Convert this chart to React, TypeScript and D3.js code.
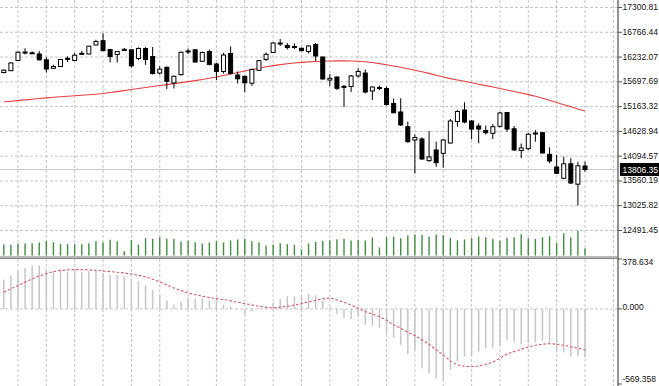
import React from "react";
import * as d3 from "d3";

const opens = [15899,15938,16158,16341,16324,16298,16173,15990,16028,16205,16158,16313,16298,16492,16585,16395,16287,16373,16388,16201,16417,16244,15888,16011,15673,15852,16363,16388,16141,16352,16082,15920,16309,15845,15817,15668,15946,16182,16330,16535,16481,16460,16421,16352,16503,16233,15737,15802,15601,15597,15824,15888,15500,15575,15554,15230,15047,14730,14443,14465,13997,14228,14156,14379,14842,15090,14853,14745,14648,14588,14739,15036,14685,14217,14255,14594,14601,14135,13861,13617,13930,13490,13882];
const highs = [15965,16120,16352,16421,16356,16363,16227,16065,16190,16248,16320,16369,16475,16607,16747,16410,16363,16427,16406,16443,16443,16449,16033,16028,15834,16352,16417,16406,16352,16395,16104,16320,16462,15920,15834,15985,16169,16330,16550,16622,16535,16524,16432,16481,16535,16244,15867,15813,15629,15845,15990,15964,15597,15619,15597,15338,15343,14838,14566,14501,14637,14407,14465,14896,15090,15256,14875,14803,14756,14788,15047,15047,14745,14368,14594,14659,14616,14283,14120,14083,14049,13975,13975];
const lows = [15880,15930,16147,16287,16298,16162,15899,15975,16018,16125,16140,16283,16291,16488,16363,16115,16115,16363,16007,16169,16065,15856,15853,15543,15554,15834,16298,16115,16125,16050,15737,15878,15856,15662,15478,15608,15931,16147,16320,16471,16395,16406,16363,16309,16147,15748,15608,15522,15155,15478,15791,15446,15306,15522,15187,15019,14745,14385,13721,14012,13975,13867,13850,14368,14730,14803,14458,14372,14562,14465,14713,14622,14206,14049,14228,14407,14152,13941,13710,13596,13494,13031,13760];
const closes = [15950,16104,16337,16330,16313,16173,15975,16028,16179,16195,16272,16302,16466,16568,16369,16244,16352,16399,16043,16417,16179,15878,15970,15709,15817,16335,16352,16125,16330,16072,15920,16276,15878,15763,15677,15964,16154,16292,16535,16524,16438,16449,16369,16471,16255,15759,15774,15558,15591,15824,15921,15478,15586,15554,15209,15032,14767,14407,14497,14034,14077,13954,14443,14853,15058,14831,14680,14680,14601,14730,15026,14680,14228,14271,14568,14583,14163,13990,13725,13930,13516,13887,13806.35];
const maValues = [15263,15278,15293,15308,15323,15338,15351,15364,15375,15386,15397,15407,15418,15431,15446,15466,15487,15509,15532,15554,15576,15597,15619,15638,15660,15681,15703,15724,15748,15774,15802,15834,15867,15899,15931,15962,15992,16022,16048,16069,16089,16104,16117,16128,16136,16143,16147,16149,16149,16147,16143,16130,16113,16091,16065,16039,16011,15981,15949,15914,15880,15841,15802,15767,15737,15709,15677,15647,15616,15586,15554,15522,15489,15457,15422,15386,15345,15299,15252,15205,15159,15112,15069];
const volumes = [11000,10700,11700,12000,12300,13000,14700,13300,11300,11300,11300,11300,12300,14300,13000,15700,14300,4300,15300,10700,17300,16700,18300,16700,16700,14000,14700,13300,12000,13000,14300,13000,15000,16000,16700,14300,13300,10000,11000,12300,11300,10700,6000,12000,13700,14700,15000,16300,16700,15000,15700,15000,18000,8000,18300,19000,17300,20000,21000,20700,19000,21000,20300,17700,15300,16000,17300,19000,18300,16700,14700,17700,18300,21300,17300,16700,18300,19300,12300,22300,18300,24700,7300];
const macdHist = [222,253,286,311,329,329,291,286,298,281,298,281,286,291,273,260,255,248,215,210,179,142,109,63,33,53,83,78,78,63,68,33,20,3,-38,-20,3,20,46,78,96,96,104,114,104,58,12,-40,-71,-78,-58,-121,-129,-142,-192,-217,-273,-344,-311,-450,-488,-526,-538,-463,-399,-361,-349,-324,-298,-293,-273,-235,-248,-268,-260,-253,-243,-253,-329,-329,-361,-361,-369];
const macdSignal = [129,152,177,202,228,250,268,283,291,296,298,298,296,293,288,283,278,273,265,255,243,225,205,182,159,139,121,109,96,86,78,71,61,51,40,30,20,13,8,13,20,30,40,53,66,76,83,68,51,30,5,-20,-40,-58,-86,-121,-147,-177,-202,-235,-268,-311,-349,-394,-425,-435,-437,-432,-420,-404,-374,-341,-324,-306,-288,-276,-268,-263,-268,-276,-288,-298,-311];
const priceTicks = ["17300.81","16766.44","16232.07","15697.69","15163.32","14628.94","14094.57","13560.19","13025.82","12491.45"];
const macdTicks = ["378.634","0.000","-569.358"];
const lastPrice = 13806.35;
const lastPriceLabel = "13806.35";

const W = 659;
const H = 386;
const AXIS_X = 618;
const MAIN_BOTTOM = 255.5;
const SUB_TOP = 259;
const FONT = "'Liberation Sans', Arial, sans-serif";

export default function App() {
  const n = closes.length;
  const x = d3.scaleLinear().domain([0, n - 1]).range([3.8, 585]);
  const y = d3.scaleLinear().domain([12491.45, 17300.81]).range([230.5, 7.5]);
  const yVol = d3.scaleLinear().domain([0, 100000]).range([MAIN_BOTTOM, MAIN_BOTTOM - 100]);
  const yM = d3.scaleLinear().domain([-569.358, 378.634]).range([384, SUB_TOP]);
  const gridIdx = d3.range(2, 87, 4);
  const maLine = d3.line<number>().x((_, i) => x(i)).y((d) => y(d));
  const sigLine = d3.line<number>().x((_, i) => x(i)).y((d) => yM(d));
  const bodyW = 4;
  const macdOffsets = [2.5, -1.5, -5];

  return (
    <svg width={W} height={H} style={{ position: "absolute", left: 0, top: 0, background: "#fff" }}>
      <rect x={0} y={0} width={W} height={H} fill="#fff" />
      {/* vertical grid */}
      {gridIdx.map((g) => (
        <g key={"vg" + g}>
          <line x1={x(g)} x2={x(g)} y1={0} y2={MAIN_BOTTOM} stroke="#c4c4c4" strokeDasharray="3,2" />
          <line x1={x(g)} x2={x(g)} y1={SUB_TOP} y2={H} stroke="#c4c4c4" strokeDasharray="3,2" />
        </g>
      ))}
      {/* horizontal grid main */}
      {priceTicks.map((t) => (
        <line key={"hg" + t} x1={0} x2={AXIS_X} y1={y(+t)} y2={y(+t)} stroke="#c4c4c4" strokeDasharray="3,2" />
      ))}
      {/* zero line sub */}
      <line x1={0} x2={AXIS_X} y1={yM(0)} y2={yM(0)} stroke="#c4c4c4" strokeDasharray="3,2" />
      {/* volumes */}
      {volumes.map((v, i) => (
        <line key={"v" + i} x1={x(i)} x2={x(i)} y1={yVol(0)} y2={yVol(v)} stroke="#3f8f3f" strokeWidth={1.4} />
      ))}
      {/* current price line */}
      <line x1={0} x2={AXIS_X} y1={y(lastPrice)} y2={y(lastPrice)} stroke="#c8c8c8" strokeWidth={1} />
      {/* MA */}
      <path d={maLine(maValues) || ""} fill="none" stroke="#e8403f" strokeWidth={1.1} />
      {/* candles */}
      {closes.map((c, i) => {
        const o = opens[i];
        const up = c >= o;
        const top = y(Math.max(o, c));
        const bot = y(Math.min(o, c));
        const h = Math.max(bot - top, 1);
        return (
          <g key={"c" + i}>
            <line x1={x(i)} x2={x(i)} y1={y(highs[i])} y2={y(lows[i])} stroke="#000" strokeWidth={1} />
            <rect x={x(i) - bodyW / 2} y={top} width={bodyW} height={h} fill={up ? "#fff" : "#000"} stroke="#000" strokeWidth={1} />
          </g>
        );
      })}
      {/* MACD histogram */}
      {macdHist.map((v, i) => (
        <line key={"m" + i} x1={x(i)} x2={x(i)} y1={yM(0)} y2={yM(v)} stroke="#c6c6c6" strokeWidth={1.5} />
      ))}
      <path d={sigLine(macdSignal) || ""} fill="none" stroke="#e0506a" strokeWidth={1.1} strokeDasharray="2.5,2" />
      {/* separator */}
      <rect x={0} y={MAIN_BOTTOM + 0.5} width={AXIS_X} height={3} fill="#b8b8b8" />
      <line x1={0} x2={AXIS_X} y1={MAIN_BOTTOM + 3} y2={MAIN_BOTTOM + 3} stroke="#808080" strokeWidth={1} />
      {/* axis */}
      <line x1={AXIS_X} x2={AXIS_X} y1={0} y2={H} stroke="#707070" strokeWidth={1.5} />
      {priceTicks.map((t) => (
        <g key={"pt" + t}>
          <line x1={AXIS_X} x2={AXIS_X + 4} y1={y(+t)} y2={y(+t)} stroke="#555" />
          <text x={AXIS_X + 4.5} y={y(+t) - 0.5} dominantBaseline="central" fontFamily={FONT} fontSize={8.5} fill="#111">{t}</text>
        </g>
      ))}
      {macdTicks.map((t, k) => (
        <g key={"mt" + t}>
          <line x1={AXIS_X} x2={AXIS_X + 4} y1={yM(+t)} y2={yM(+t)} stroke="#555" />
          <text x={AXIS_X + 4.5} y={yM(+t) + macdOffsets[k]} dominantBaseline="central" fontFamily={FONT} fontSize={8.5} fill="#111">{t}</text>
        </g>
      ))}
      {/* last price label */}
      <rect x={AXIS_X + 2} y={y(lastPrice) - 6.5} width={W - AXIS_X - 2} height={13} fill="#000" />
      <text x={AXIS_X + 4.5} y={y(lastPrice)} dominantBaseline="central" fontFamily={FONT} fontSize={8.5} fill="#fff">{lastPriceLabel}</text>
    </svg>
  );
}
